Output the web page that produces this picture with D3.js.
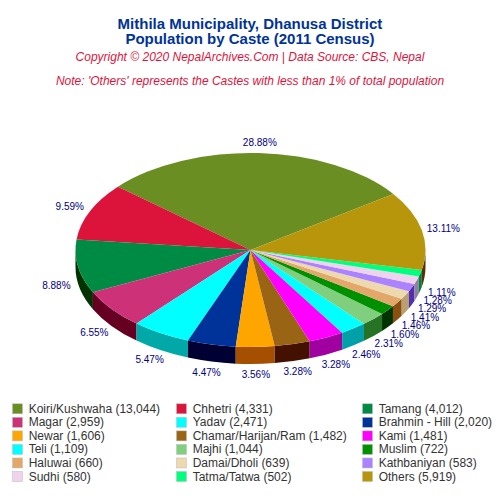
<!DOCTYPE html>
<html>
<head>
<meta charset="utf-8">
<script src="https://cdn.jsdelivr.net/npm/d3@7"></script>
<style>
  html, body { margin: 0; padding: 0; background: #fff; }
  text { font-family: "Liberation Sans", Arial, sans-serif; }
</style>
</head>
<body>
<svg id="chart" width="500" height="500"></svg>
<script>
const castes = ["Koiri/Kushwaha", "Chhetri", "Tamang", "Magar", "Yadav", "Brahmin - Hill", "Newar", "Chamar/Harijan/Ram", "Kami", "Teli", "Majhi", "Muslim", "Haluwai", "Damai/Dholi", "Kathbaniyan", "Sudhi", "Tatma/Tatwa", "Others"];
const population = [13044, 4331, 4012, 2959, 2471, 2020, 1606, 1482, 1481, 1109, 1044, 722, 660, 639, 583, 580, 502, 5919];
const topColors = ["#6b8e23", "#dc143c", "#008b45", "#cd3278", "#00ffff", "#003399", "#ffa500", "#996515", "#ff00ff", "#00ffff", "#7fcf7f", "#009000", "#e3a869", "#eed8ae", "#ab82ff", "#eed2ee", "#00ff7f", "#b8960b"];
const sideColors = ["#3a5a00", "#8b0020", "#003300", "#660022", "#00a8a8", "#000033", "#a54f00", "#441100", "#a000a0", "#00a0a8", "#267326", "#003300", "#8b4f10", "#b8a070", "#5030b0", "#9080a0", "#008040", "#553300"];
const titleLines = ["Mithila Municipality, Dhanusa District", "Population by Caste (2011 Census)"];
const copyright = "Copyright © 2020 NepalArchives.Com | Data Source: CBS, Nepal";
const note = "Note: 'Others' represents the Castes with less than 1% of total population";

const svg = d3.select("#chart");
const cx = 250.5, cy = 250, rx = 175, ry = 97, depth = 17;
const squash = ry / rx;
const startDeg = 35.3;

const total = d3.sum(population);
const fmt = d3.format(",");
const pct = d3.format(".2f");

const pie = d3.pie().sort(null)
  .startAngle((90 - startDeg) * Math.PI / 180)
  .endAngle((90 - startDeg - 360) * Math.PI / 180);
const slices = pie(population);

// titles
svg.selectAll(".title").data(titleLines).join("text")
  .attr("class", "title")
  .attr("x", 250).attr("y", (d, i) => 29 + i * 15)
  .attr("text-anchor", "middle")
  .attr("font-size", 15).attr("font-weight", "bold")
  .attr("fill", "#003399")
  .text(d => d);

svg.append("text").attr("x", 250).attr("y", 61)
  .attr("text-anchor", "middle").attr("font-size", 12).attr("font-style", "italic")
  .attr("fill", "#dc143c").text(copyright);

svg.append("text").attr("x", 250).attr("y", 85)
  .attr("text-anchor", "middle").attr("font-size", 12).attr("font-style", "italic")
  .attr("fill", "#dc143c").text(note);

// pie: circles squashed vertically to get the ellipse
const g = svg.append("g").attr("transform", `translate(${cx},${cy}) scale(1,${squash})`);

function sidePath(d) {
  // d3 angles run clockwise from 12 o'clock, turn them to math angles
  const t0 = Math.PI / 2 - d.startAngle, t1 = Math.PI / 2 - d.endAngle;
  const a0 = Math.max(t0, Math.PI), a1 = Math.min(t1, 2 * Math.PI);
  if (a1 <= a0) return null;
  const h = depth / squash;
  const p = d3.path();
  p.arc(0, 0, rx, -a0, -a1, true);
  p.lineTo(rx * Math.cos(a1), -rx * Math.sin(a1) + h);
  p.arc(0, h, rx, -a1, -a0, false);
  p.closePath();
  return p.toString();
}

g.selectAll(".side").data(slices).join("path")
  .attr("class", "side")
  .attr("d", sidePath)
  .attr("fill", (d, i) => sideColors[i]);

const arc = d3.arc().innerRadius(0).outerRadius(rx);
g.selectAll(".top").data(slices).join("path")
  .attr("class", "top")
  .attr("d", arc)
  .attr("fill", (d, i) => topColors[i]);

// percent labels sit on a bigger ellipse, pushed down by the depth on the front half
svg.selectAll(".pct").data(slices).join("text")
  .attr("class", "pct")
  .attr("x", d => {
    const t = Math.PI / 2 - (d.startAngle + d.endAngle) / 2;
    return cx + 197 * Math.cos(t);
  })
  .attr("y", d => {
    const t = Math.PI / 2 - (d.startAngle + d.endAngle) / 2;
    const s = Math.sin(t);
    return cy - 108 * s + (s < 0 ? depth : 0) + 3.5;
  })
  .attr("text-anchor", "middle")
  .attr("font-size", 10)
  .attr("fill", "#000080")
  .text(d => pct(d.value / total * 100) + "%");

// legend, 3 columns filled row by row
const colX = [12, 176, 362];
const rowY = d3.scaleLinear().domain([0, 5]).range([408.3, 476]);
const legend = svg.selectAll(".legend").data(castes).join("g")
  .attr("class", "legend")
  .attr("transform", (d, i) => `translate(${colX[i % 3]},${rowY(Math.floor(i / 3))})`);

legend.append("rect")
  .attr("x", 0.5).attr("y", -4.5).attr("width", 10).attr("height", 10)
  .attr("fill", (d, i) => topColors[i])
  .attr("stroke", "#bbb").attr("stroke-width", 0.5);

legend.append("text")
  .attr("x", 16.7).attr("y", 4.5)
  .attr("font-size", 12).attr("fill", "#333")
  .text((d, i) => `${d} (${fmt(population[i])})`);
</script>
</body>
</html>
